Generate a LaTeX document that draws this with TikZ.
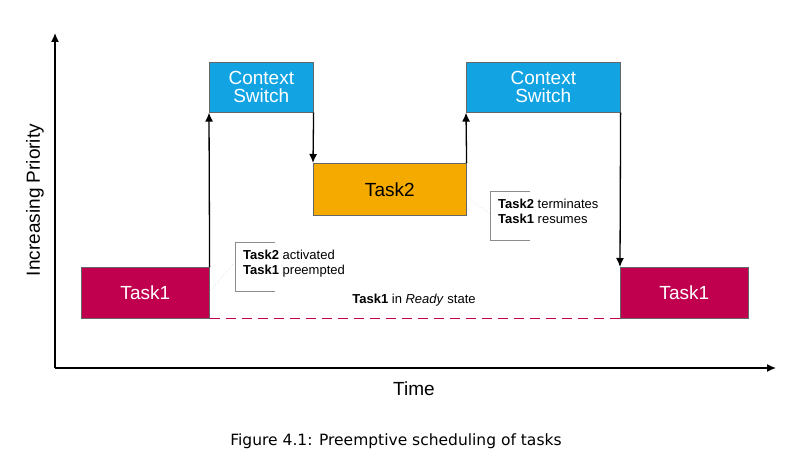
\documentclass[tikz,border=0pt]{standalone}
\usepackage{fontspec}
\setmainfont{Liberation Sans}
\newfontfamily\capfont{DejaVu Sans}
\begin{document}
\begin{tikzpicture}[x=1pt,y=-1pt,
  box/.style={draw=black!60,line width=0.6pt,anchor=north west,inner sep=0,font=\fontsize{19}{21}\selectfont,align=center},
  arr/.style={-{Latex[length=9,width=8]},line width=1.3pt},
  call/.style={draw=black!45,line width=0.5pt},
  dot/.style={draw=black!30,line width=0.4pt,dotted},
  ctext/.style={anchor=north west,align=left,font=\fontsize{13}{15}\selectfont,inner sep=0}]
\useasboundingbox (0,0) rectangle (803,468);
\definecolor{crim}{HTML}{C0004F}
\definecolor{cs}{HTML}{12A3E2}
\definecolor{org}{HTML}{F5AA00}
\usetikzlibrary{arrows.meta}
% axes
\coordinate (o) at (55,368);
\coordinate (ytop) at (55,33);
\coordinate (xend) at (776,368);
\draw[arr] (o) -- (ytop);
\draw[arr] (o) -- (xend);
\node[rotate=90,font=\fontsize{19}{21}\selectfont] (yl) at (35,200) {Increasing Priority};
\node[font=\fontsize{19}{21}\selectfont] (xl) at (414,389) {Time};
% boxes
\node[box,fill=crim,text=white,minimum width=128,minimum height=51] (t1a) at (81,267) {Task1};
\node[box,fill=cs,text=white,minimum width=104,minimum height=50] (c1) at (209,62) {Context\\[-3pt]Switch};
\node[box,fill=org,minimum width=153,minimum height=52] (t2) at (313,163) {Task2};
\node[box,fill=cs,text=white,minimum width=154,minimum height=50] (c2) at (466,62) {Context\\[-3pt]Switch};
\node[box,fill=crim,text=white,minimum width=128,minimum height=51] (t1b) at (620,267) {Task1};
% arrows
\draw[arr] (t1a.north east) -- (c1.south west);
\draw[arr] (c1.south east) -- (t2.north west);
\draw[arr] (t2.north east) -- (c2.south west);
\draw[arr] (c2.south east) -- (t1b.north west);
\draw[crim,line width=1.5pt,dash pattern=on 10pt off 6pt] (t1a.south east) -- (t1b.south west);
% callouts
\draw[call] (275,242) -- (235,242) -- (235,291) -- (275,291);
\coordinate (k1) at (235,262);
\draw[dot] (209,292) -- (k1);
\node[ctext] (n1) at (243,250) {\textbf{Task2} activated\\\textbf{Task1} preempted};
\draw[call] (530,191) -- (490,191) -- (490,240) -- (530,240);
\coordinate (k2) at (490,214);
\draw[dot] (466,196) -- (k2);
\node[ctext] (n2) at (498,199) {\textbf{Task2} terminates\\\textbf{Task1} resumes};
\node[font=\fontsize{13}{15}\selectfont] (rd) at (414,300) {\textbf{Task1} in \textit{Ready} state};
\node[font=\capfont\fontsize{15.5}{18}\selectfont] (cap) at (396,441) {Figure 4.1: Preemptive scheduling of tasks};
\end{tikzpicture}
\end{document}
